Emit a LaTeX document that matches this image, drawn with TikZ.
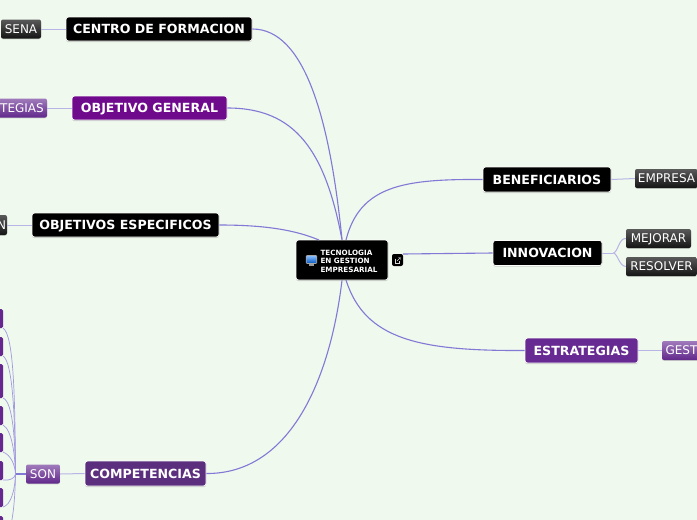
\documentclass[tikz,border=0pt]{standalone}
\usepackage{fontspec}
\setmainfont{DejaVu Sans}
\usetikzlibrary{shadows,calc}
\definecolor{bgc}{HTML}{EFF9EE}
\definecolor{linec}{HTML}{8378D6}
\definecolor{linelt}{HTML}{B9B4E6}
\definecolor{pgen}{HTML}{6F0A8C}
\definecolor{pest}{HTML}{662A92}
\definecolor{pcom}{HTML}{5C2E7E}
\definecolor{pstub}{HTML}{66288F}
\tikzset{
  mainbox/.style={rounded corners=2.5pt,draw=white!85!bgc,line width=.8pt,inner sep=0pt,text=white,
    text height=9.2pt,text depth=0pt,
    font=\bfseries\fontsize{12.6}{14}\selectfont,
    drop shadow={shadow xshift=0pt,shadow yshift=-1.2pt,opacity=.16,fill=black}},
  subbox/.style={rounded corners=2pt,inner sep=0pt,text=white,text height=8.8pt,text depth=0pt,
    font=\fontsize{12}{14}\selectfont,
    drop shadow={shadow xshift=0pt,shadow yshift=-.8pt,opacity=.14,fill=black}},
  graysub/.style={subbox,top color=black!65,bottom color=black!92},
  purpsub/.style={subbox,top color=pest!62!white,bottom color=pest!95!black},
  stubbox/.style={rounded corners=1.5pt,fill=pstub,inner sep=0pt,minimum width=8pt},
  trunk/.style={draw=linec,line width=1.1pt},
  branch/.style={draw=linelt,line width=1pt},
  twig/.style={draw=linec!75!white,line width=.7pt}
}
\begin{document}
\begin{tikzpicture}[x=1pt,y=-1pt]
\useasboundingbox (0,0) rectangle (697,520);
\clip (0,0) rectangle (697,520);
\fill[bgc] (0,0) rectangle (697,520);

% central topic
\node[mainbox,fill=black,minimum width=92pt,minimum height=40pt] (ctr) at (342,260) {};
\node[anchor=west,text=white,align=left,inner sep=0pt,font=\bfseries\fontsize{7.2}{8.5}\selectfont] (ctrtxt) at (320.3,261) {TECNOLOGIA\\EN GESTION\\EMPRESARIAL};
\node[draw=black!35,rounded corners=.8pt,top color=cyan!45!blue!45,bottom color=cyan!45!blue!75!black,minimum width=10.5pt,minimum height=8pt,inner sep=0pt,line width=.6pt] (mon) at (311.5,259.5) {};
\fill[black!40] (309,264) rectangle (314,265.5);
\node[fill=black,rounded corners=2pt,minimum width=11pt,minimum height=12pt,inner sep=0pt] (lnk) at (397.5,260) {};
\draw[white!85!black,line width=.45pt] (395,258.5) -- (395,263) -- (399.5,263) -- (399.5,261);
\draw[white!85!black,line width=.45pt] (397,261) -- (400.5,257.5) (398,257.5) -- (400.5,257.5) -- (400.5,260);

% main topics
\node[mainbox,fill=black,minimum width=186pt,minimum height=24pt] (cf) at (159,29) {CENTRO DE FORMACION};
\node[mainbox,fill=pgen,minimum width=155pt,minimum height=24pt] (og) at (149.5,108) {OBJETIVO GENERAL};
\node[mainbox,fill=black,minimum width=187pt,minimum height=24pt] (oe) at (125.5,225) {OBJETIVOS ESPECIFICOS};
\node[mainbox,fill=pcom,minimum width=121pt,minimum height=25pt] (co) at (145.5,473.5) {COMPETENCIAS};
\node[mainbox,fill=black,minimum width=128pt,minimum height=25pt] (be) at (547,179.5) {BENEFICIARIOS};
\node[mainbox,fill=black,minimum width=109pt,minimum height=25pt] (in) at (547.5,253) {INNOVACION};
\node[mainbox,fill=pest,minimum width=113pt,minimum height=25pt] (es) at (581.5,350.5) {ESTRATEGIAS};

% sub topics
\node[graysub,minimum width=40pt,minimum height=19pt] (sena) at (21,29) {SENA};
\node[purpsub,minimum width=50pt,minimum height=19pt] (teg) at (22,108) {TEGIAS};
\node[graysub,minimum width=11pt,minimum height=20pt] (nn) at (1.5,225) {N};
\node[purpsub,minimum width=34pt,minimum height=19pt] (son) at (43,474) {SON};
\node[graysub,minimum width=63pt,minimum height=19pt] (emp) at (666.5,178.5) {EMPRESA};
\node[graysub,minimum width=65pt,minimum height=19pt] (mej) at (658.5,238.5) {MEJORAR};
\node[graysub,minimum width=71pt,minimum height=19pt] (res) at (661.5,266.5) {RESOLVER};
\node[purpsub,minimum width=39pt,minimum height=19pt] (ges) at (681.5,350.5) {GEST};

% stubs at the left edge
\node[stubbox,minimum height=19pt] (s1) at (-1,318.5) {};
\node[stubbox,minimum height=19pt] (s2) at (-1,346.5) {};
\node[stubbox,minimum height=34pt] (s3) at (-1,381) {};
\node[stubbox,minimum height=19pt] (s4) at (-1,415.5) {};
\node[stubbox,minimum height=19pt] (s5) at (-1,442.5) {};
\node[stubbox,minimum height=19pt] (s6) at (-1,470.5) {};
\node[stubbox,minimum height=19pt] (s7) at (-1,497.5) {};
\node[stubbox,minimum height=19pt] (s8) at (-1,525.5) {};

% connectors from the centre
\draw[trunk] (cf.east) .. controls (305,29) and (330,120) .. (ctr.north);
\draw[trunk] (og.east) .. controls (295,108) and (325,150) .. (ctr.north);
\draw[trunk] (oe.east) .. controls (265,225) and (295,230) .. (319,240);
\draw[trunk] (be.west) .. controls (405,179) and (360,185) .. (346,240);
\draw[trunk] (lnk.east |- 254,254) -- (in.west);
\draw[trunk] (es.west) .. controls (420,351) and (365,340) .. (346,280);
\draw[trunk] (co.east) .. controls (290,474) and (330,380) .. (ctr.south);

% connectors to sub topics
\draw[branch] (sena.east) -- (cf.west);
\draw[branch] (teg.east) -- (og.west);
\draw[branch] (nn.east) -- (oe.west);
\draw[branch] (son.east) -- (co.west);
\draw[branch] (be.east) -- (emp.west);
\draw[branch] (es.east) -- (ges.west);
\draw[branch] (in.east) -- ++(11,0) coordinate (fork);
\draw[branch] (fork) .. controls (618,252) and (619,238) .. (mej.west);
\draw[branch] (fork) .. controls (618,254) and (619,266) .. (res.west);

% connectors SON to stubs
\coordinate (hub) at (15.5,474);
\draw[draw=linec,line width=1.2pt] (son.west) -- (hub);
\draw[twig] (hub) .. controls (15,400) and (14,335) .. (3,328);
\draw[twig] (hub) .. controls (15,420) and (13,362) .. (3,356);
\draw[twig] (hub) .. controls (15,440) and (13,402) .. (3,398);
\draw[twig] (hub) .. controls (15,455) and (12,430) .. (3,425);
\draw[twig] (hub) .. controls (15,465) and (11,455) .. (3,452);
\draw[twig] (hub) .. controls (15,478) and (10,481) .. (3,480);
\draw[twig] (hub) .. controls (15,490) and (11,505) .. (3,507);
\draw[twig] (hub) .. controls (15,495) and (14,510) .. (11,525);
\end{tikzpicture}
\end{document}
